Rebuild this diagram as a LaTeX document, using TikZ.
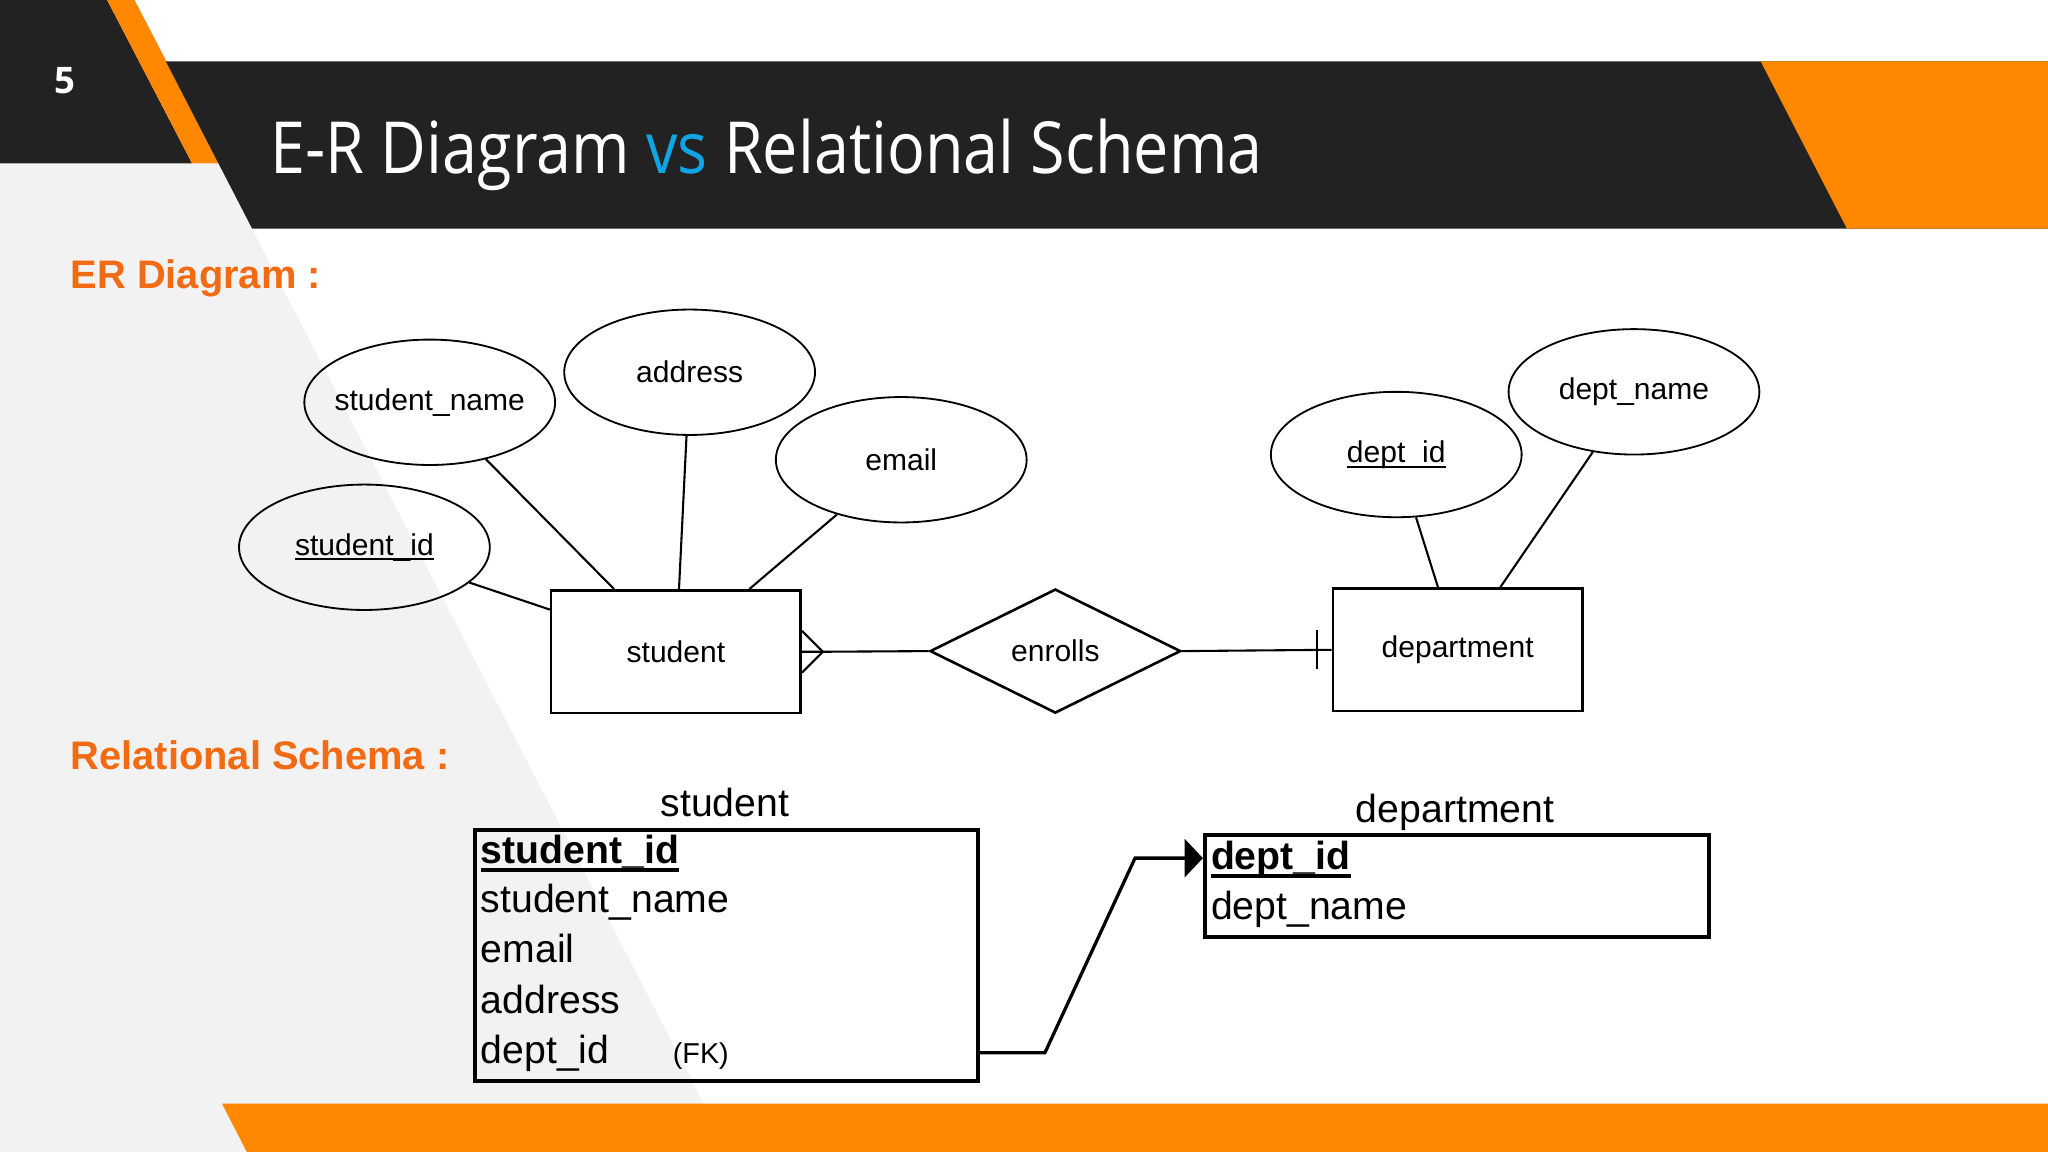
\documentclass[tikz,border=0pt]{standalone}
\usepackage{fontspec}
\setmainfont{Liberation Sans}
\newfontfamily\titlefont{Open Sans}
\usetikzlibrary{shapes.geometric,calc,arrows.meta}
\definecolor{barblack}{HTML}{222222}
\definecolor{barorange}{HTML}{FF8800}
\definecolor{bggray}{HTML}{F2F2F2}
\definecolor{labelorange}{HTML}{F26A12}
\definecolor{vsblue}{HTML}{12A5E6}
\newcommand\myul[3]{\setbox0=\hbox{#1}\leavevmode\rlap{\copy0}\rule[-#2]{\wd0}{#3}}
\newcommand\ctext[1]{\makebox[0pt]{#1}}
\begin{document}
\begin{tikzpicture}[x=1pt,y=-1pt,
  attr/.style={ellipse, draw, line width=1.4pt, minimum width=192pt, minimum height=96pt, inner sep=0pt, font=\fontsize{23}{27}\selectfont},
  entity/.style={rectangle, draw, line width=2pt, minimum width=191pt, minimum height=94pt, inner sep=0pt, font=\fontsize{23}{27}\selectfont},
  rel/.style={diamond, draw, line width=2pt, aspect=2, minimum width=192pt, minimum height=95pt, inner sep=0pt, font=\fontsize{23}{27}\selectfont},
  erline/.style={line width=1.6pt},
  tbl/.style={rectangle, draw, line width=3pt, inner sep=0pt},
  row/.style={anchor=base west, inner sep=0pt, font=\fontsize{30}{34}\selectfont},
  tbltitle/.style={anchor=base, inner sep=0pt, font=\fontsize{30}{34}\selectfont},
  seclabel/.style={anchor=base west, inner sep=0pt, text=labelorange, font=\bfseries\fontsize{30.5}{34}\selectfont}]
\useasboundingbox (0,0) rectangle (1568,882);
% background shapes
\fill[white] (0,0) rectangle (1568,882);
\fill[bggray] (0,125) -- (167,125) -- (558,882) -- (0,882) -- cycle;
\fill[barblack] (0,0) -- (82,0) -- (147,125) -- (0,125) -- cycle;
\fill[barorange] (82,0) -- (103,0) -- (168,125) -- (147,125) -- cycle;
\fill[barblack] (127,47) -- (1568,47) -- (1568,175) -- (193,175) -- cycle;
\fill[barorange] (1348,47) -- (1568,47) -- (1568,175) -- (1414,175) -- cycle;
\fill[barorange] (170,845) -- (1568,845) -- (1568,882) -- (189,882) -- cycle;
% header texts
\node[text=white, font=\titlefont\bfseries\fontsize{28}{30}\selectfont] (num) at (50,62) {5};
\node[anchor=base west, inner sep=0pt, text=white, font=\titlefont\fontsize{55}{60}\selectfont] (title) at (207,133) {\scalebox{0.875}[1]{E-R Diagram \textcolor{vsblue}{vs} Relational Schema}};
\node[seclabel] (erlab) at (54,221) {ER Diagram :};
\node[seclabel] (rslab) at (54,589) {Relational Schema :};
% ER diagram
\node[attr] (sid) at (279,419) {\ctext{\myul{student\_id}{4pt}{1.5pt}}};
\node[attr] (sname) at (329,308) {\ctext{student\_name}};
\node[attr] (addr) at (528,285) {\ctext{address}};
\node[attr] (email) at (690,352) {\ctext{email}};
\node[attr] (did) at (1069,348) {\ctext{\myul{dept\_id}{4pt}{1.5pt}}};
\node[attr] (dname) at (1251,300) {\ctext{dept\_name}};
\node[entity] (stu) at (517.5,499) {student};
\node[entity] (dep) at (1116,497.5) {department};
\node[rel] (enr) at (808,498.5) {enrolls};
\draw[erline] (sid) -- (stu);
\draw[erline] (sname) -- (stu);
\draw[erline] (addr) -- (stu);
\draw[erline] (email) -- (stu);
\draw[erline] (did) -- (dep);
\draw[erline] (dname) -- (dep);
\coordinate (cf) at ($(stu.east)+(16,0)$);
\draw[erline] ($(stu.east)+(0,-16)$) -- (cf) -- ($(stu.east)+(0,16)$);
\draw[erline] (stu.east) -- (cf) -- (enr.west);
\draw[erline] (enr.east) -- (dep.west);
\draw[erline] ($(dep.west)+(-11,-15)$) -- ($(dep.west)+(-11,15)$);
% relational schema
\node[tbl, minimum width=385pt, minimum height=192pt, anchor=north west] (stab) at (362,634) {};
\node[tbl, minimum width=386pt, minimum height=78pt, anchor=north west] (dtab) at (921,638) {};
\node[tbltitle] (sttitle) at (555,625) {student};
\node[tbltitle] (dttitle) at (1114,630) {department};
\node[row, font=\bfseries\fontsize{30}{34}\selectfont] (r1) at (368,661) {student\_id};
\draw[line width=3pt] ($(r1.base west)+(0,5)$) -- ($(r1.base east)+(0,5)$);
\node[row] (r2) at (368,699) {student\_name};
\node[row] (r3) at (368,737) {email};
\node[row] (r4) at (368,776) {address};
\node[row] (r5) at (368,814) {dept\_id};
\node[anchor=base west, inner sep=0pt, font=\fontsize{22}{26}\selectfont] (fk) at (515,814) {(FK)};
\node[row, font=\bfseries\fontsize{30}{34}\selectfont] (d1) at (927,666) {dept\_id};
\draw[line width=3pt] ($(d1.base west)+(0,5)$) -- ($(d1.base east)+(0,5)$);
\node[row] (d2) at (927,704) {dept\_name};
\coordinate (fkout) at (stab.east |- 0,806);
\coordinate (pkin) at (dtab.west |- 0,657);
\draw[line width=2.5pt, -{Triangle[length=14pt,width=29pt]}] (fkout) -- ++(50,0) -- ($(pkin)+(-52,0)$) -- (pkin);
\end{tikzpicture}
\end{document}
